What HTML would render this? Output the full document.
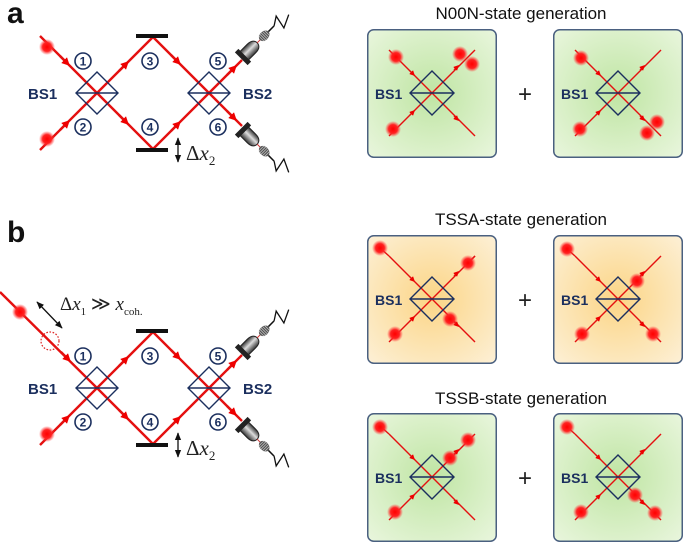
<!DOCTYPE html>
<html><head><meta charset="utf-8"><style>
html,body{margin:0;padding:0;background:#fff;}
svg{display:block;}
.t{font-family:"Liberation Sans",sans-serif;}
.bs{font-family:"Liberation Sans",sans-serif;font-weight:bold;fill:#1b2f5e;font-size:15px;}
.num{font-family:"Liberation Sans",sans-serif;font-weight:bold;fill:#1b2f5e;font-size:12px;text-anchor:middle;}
</style></head><body>
<svg width="685" height="545" viewBox="0 0 685 545" xmlns="http://www.w3.org/2000/svg">
<defs>
<radialGradient id="blob"><stop offset="0" stop-color="#f00"/><stop offset="0.55" stop-color="#f22"/><stop offset="1" stop-color="#f44" stop-opacity="0"/></radialGradient>
<radialGradient id="gbg" cx="0.5" cy="0.5" r="0.7"><stop offset="0" stop-color="#bfe5a3"/><stop offset="1" stop-color="#e9f6dd"/></radialGradient>
<radialGradient id="obg" cx="0.5" cy="0.5" r="0.7"><stop offset="0" stop-color="#fbd586"/><stop offset="1" stop-color="#fdf0d6"/></radialGradient>
<linearGradient id="cup" x1="0" y1="0" x2="0" y2="1"><stop offset="0" stop-color="#333"/><stop offset="0.45" stop-color="#ddd"/><stop offset="1" stop-color="#333"/></linearGradient>
<marker id="ar" viewBox="0 0 10 10" refX="5" refY="5" markerWidth="4" markerHeight="4" orient="auto"><path d="M0,0 L10,5 L0,10 z" fill="#e00"/></marker>
<marker id="ar2" viewBox="0 0 10 10" refX="5" refY="5" markerWidth="3.4" markerHeight="3.4" orient="auto"><path d="M0,0 L10,5 L0,10 z" fill="#e00"/></marker>
<marker id="ka" viewBox="0 0 10 10" refX="9" refY="5" markerWidth="6" markerHeight="6" orient="auto"><path d="M0,1 L10,5 L0,9 z" fill="#111"/></marker>
<marker id="ks" viewBox="0 0 10 10" refX="1" refY="5" markerWidth="6" markerHeight="6" orient="auto"><path d="M10,1 L0,5 L10,9 z" fill="#111"/></marker>

<g id="det">
  <rect x="-2.5" y="-9" width="5" height="18" fill="#222"/>
  <path d="M2,-6 L12,-6 Q19,-6 20,-1 L20,1 Q19,6 12,6 L2,6 Z" fill="url(#cup)" stroke="#222" stroke-width="1"/>
  <line x1="20" y1="0" x2="25" y2="0" stroke="#c33" stroke-width="1"/>
  <ellipse cx="30" cy="0" rx="6" ry="4.5" fill="#555"/>
  <g stroke="#ddd" stroke-width="0.6"><line x1="26" y1="-4" x2="26" y2="4"/><line x1="28" y1="-4.5" x2="28" y2="4.5"/><line x1="30" y1="-4.5" x2="30" y2="4.5"/><line x1="32" y1="-4.5" x2="32" y2="4.5"/><line x1="34" y1="-4" x2="34" y2="4"/></g>
  <path d="M36,0 L44,0" stroke="#111" stroke-width="1.5"/>
</g>

<g id="bsd">
  <path d="M0,-21 L21,0 L0,21 L-21,0 Z M-21,0 L21,0" fill="none" stroke="#1b2f5e" stroke-width="1.4"/>
</g>
<g id="bss">
  <path d="M0,-22 L22,0 L0,22 L-22,0 Z M-22,0 L22,0" fill="none" stroke="#1b2f5e" stroke-width="1.4"/>
</g>

<g id="inter">
  <g stroke="#e41010" stroke-width="2.4" fill="none">
    <path d="M97,93 L153,37 L209,93 L242,60"/>
    <path d="M97,93 L153,149 L209,93 L242,126"/>
  </g>
  <g stroke="#e41010" stroke-width="2.4" fill="none" marker-end="url(#ar2)">
    <path d="M119,71 L126,64"/>
    <path d="M119,115 L126,122"/>
    <path d="M171,55 L178,62"/>
    <path d="M171,131 L178,124"/>
    <path d="M227,75 L234,68"/>
    <path d="M227,111 L234,118"/>
  </g>
  <use href="#bsd" x="97" y="93"/>
  <use href="#bsd" x="209" y="93"/>
  <rect x="136" y="34" width="32" height="4" fill="#111"/>
  <rect x="136" y="148" width="32" height="4" fill="#111"/>
  <g fill="#fff" stroke="#1b2f5e" stroke-width="1.6">
    <circle cx="83" cy="61" r="8"/><circle cx="83" cy="127" r="8"/>
    <circle cx="150" cy="61" r="8"/><circle cx="150" cy="127" r="8"/>
    <circle cx="218" cy="61" r="8"/><circle cx="218" cy="127" r="8"/>
  </g>
  <text class="num" x="83" y="65.5">1</text><text class="num" x="83" y="131.5">2</text>
  <text class="num" x="150" y="65.5">3</text><text class="num" x="150" y="131.5">4</text>
  <text class="num" x="218" y="65.5">5</text><text class="num" x="218" y="131.5">6</text>
  <text class="bs" x="28" y="99">BS1</text>
  <text class="bs" x="243" y="99">BS2</text>
  <line x1="178" y1="138" x2="178" y2="162" stroke="#111" stroke-width="1.3" marker-end="url(#ka)" marker-start="url(#ks)"/>
  <text x="186" y="160" style="font-family:'Liberation Serif',serif;font-size:21px;fill:#222">Δ<tspan font-style="italic">x</tspan><tspan font-size="13" dy="5">2</tspan></text>
  <g transform="translate(243,57) rotate(-45)"><use href="#det"/><path d="M44,0 L50,-8 L52,6 L62,-4" stroke="#111" stroke-width="1.3" fill="none" transform="rotate(20 44 0)"/></g>
  <g transform="translate(243,130) rotate(45)"><use href="#det"/><path d="M44,0 L50,8 L52,-6 L62,4" stroke="#111" stroke-width="1.3" fill="none" transform="rotate(-20 44 0)"/></g>
</g>

<g id="box">
  <rect x="0.75" y="0.75" width="128.5" height="127.5" rx="6" stroke="#4a6080" stroke-width="1.5"/>
</g>
<g id="cross">
  <g stroke="#e41010" stroke-width="1.4">
    <line x1="22" y1="21" x2="108" y2="107"/>
    <line x1="22" y1="107" x2="108" y2="21"/>
  </g>
  <g stroke="#e41010" stroke-width="1.4" marker-end="url(#ar)">
    <line x1="43" y1="42" x2="46" y2="45"/>
    <line x1="43" y1="86" x2="46" y2="83"/>
    <line x1="87" y1="41" x2="90" y2="38"/>
    <line x1="87" y1="87" x2="90" y2="90"/>
  </g>
  <use href="#bss" x="65" y="64"/>
  <text class="bs" x="8" y="70" style="font-size:14px">BS1</text>
</g>
</defs>

<!-- panel a -->
<text class="t" x="7" y="23" style="font-size:30px;font-weight:bold;fill:#111">a</text>
<g stroke="#e41010" stroke-width="2.4" fill="none">
  <path d="M40,36 L97,93"/><path d="M40,150 L97,93"/>
</g>
<g stroke="#e41010" stroke-width="2.4" marker-end="url(#ar2)"><path d="M60,56 L67,63"/><path d="M60,130 L67,123"/></g>
<circle cx="47" cy="47" r="8" fill="url(#blob)"/>
<circle cx="47" cy="139" r="8" fill="url(#blob)"/>
<use href="#inter"/>

<!-- panel b -->
<text class="t" x="7" y="242" style="font-size:30px;font-weight:bold;fill:#111">b</text>
<g stroke="#e41010" stroke-width="2.4" fill="none">
  <path d="M0,292 L97,388"/><path d="M40,445 L97,388"/>
</g>
<g stroke="#e41010" stroke-width="2.4" marker-end="url(#ar2)"><path d="M61,352 L68,359"/><path d="M60,425 L67,418"/></g>
<circle cx="20" cy="312" r="8" fill="url(#blob)"/>
<circle cx="47" cy="434" r="8" fill="url(#blob)"/>
<circle cx="50" cy="341" r="9" fill="none" stroke="#d22" stroke-width="1.2" stroke-dasharray="1.6 1.6"/>
<line x1="37" y1="302" x2="62" y2="328" stroke="#111" stroke-width="1.3" marker-end="url(#ka)" marker-start="url(#ks)"/>
<text x="60" y="310" style="font-family:'Liberation Serif',serif;font-size:19px;fill:#222">Δ<tspan font-style="italic">x</tspan><tspan font-size="11" dy="5">1</tspan><tspan dy="-5"> ≫ </tspan><tspan font-style="italic">x</tspan><tspan font-size="11" dy="5">coh.</tspan></text>
<use href="#inter" y="295"/>

<!-- right side -->
<text class="t" x="521" y="19" text-anchor="middle" style="font-size:17px;fill:#111">N00N-state generation</text>
<text class="t" x="521" y="225" text-anchor="middle" style="font-size:17px;fill:#111">TSSA-state generation</text>
<text class="t" x="521" y="404" text-anchor="middle" style="font-size:17px;fill:#111">TSSB-state generation</text>
<g class="t" style="font-size:24px;fill:#222" text-anchor="middle">
  <text x="525" y="102">+</text><text x="525" y="308">+</text><text x="525" y="486">+</text>
</g>

<g transform="translate(367,29)">
  <use href="#box" fill="url(#gbg)"/><use href="#cross"/>
  <circle cx="29" cy="28" r="8" fill="url(#blob)"/><circle cx="26" cy="100" r="8" fill="url(#blob)"/>
  <circle cx="93" cy="25" r="8" fill="url(#blob)"/><circle cx="105" cy="35" r="8" fill="url(#blob)"/>
</g>
<g transform="translate(553,29)">
  <use href="#box" fill="url(#gbg)"/><use href="#cross"/>
  <circle cx="28" cy="29" r="8" fill="url(#blob)"/><circle cx="27" cy="100" r="8" fill="url(#blob)"/>
  <circle cx="104" cy="93" r="8" fill="url(#blob)"/><circle cx="94" cy="104" r="8" fill="url(#blob)"/>
</g>
<g transform="translate(367,235)">
  <use href="#box" fill="url(#obg)"/>
  <g stroke="#e41010" stroke-width="1.4"><line x1="12" y1="12" x2="22" y2="21"/><line x1="108" y1="21" x2="102" y2="27"/></g>
  <use href="#cross"/>
  <circle cx="13" cy="13" r="8" fill="url(#blob)"/><circle cx="101" cy="28" r="8" fill="url(#blob)"/>
  <circle cx="83" cy="84" r="8" fill="url(#blob)"/><circle cx="28" cy="99" r="8" fill="url(#blob)"/>
</g>
<g transform="translate(553,235)">
  <use href="#box" fill="url(#obg)"/>
  <g stroke="#e41010" stroke-width="1.4"><line x1="12" y1="12" x2="22" y2="21"/></g>
  <use href="#cross"/>
  <circle cx="14" cy="14" r="8" fill="url(#blob)"/><circle cx="84" cy="46" r="8" fill="url(#blob)"/>
  <circle cx="100" cy="99" r="8" fill="url(#blob)"/><circle cx="29" cy="99" r="8" fill="url(#blob)"/>
</g>
<g transform="translate(367,413)">
  <use href="#box" fill="url(#gbg)"/>
  <g stroke="#e41010" stroke-width="1.4"><line x1="12" y1="12" x2="22" y2="21"/></g>
  <use href="#cross"/>
  <circle cx="13" cy="14" r="8" fill="url(#blob)"/><circle cx="101" cy="27" r="8" fill="url(#blob)"/>
  <circle cx="83" cy="45" r="8" fill="url(#blob)"/><circle cx="28" cy="99" r="8" fill="url(#blob)"/>
</g>
<g transform="translate(553,413)">
  <use href="#box" fill="url(#gbg)"/>
  <g stroke="#e41010" stroke-width="1.4"><line x1="12" y1="12" x2="22" y2="21"/></g>
  <use href="#cross"/>
  <circle cx="14" cy="14" r="8" fill="url(#blob)"/><circle cx="82" cy="82" r="8" fill="url(#blob)"/>
  <circle cx="102" cy="100" r="8" fill="url(#blob)"/><circle cx="28" cy="99" r="8" fill="url(#blob)"/>
</g>
</svg>
</body></html>
